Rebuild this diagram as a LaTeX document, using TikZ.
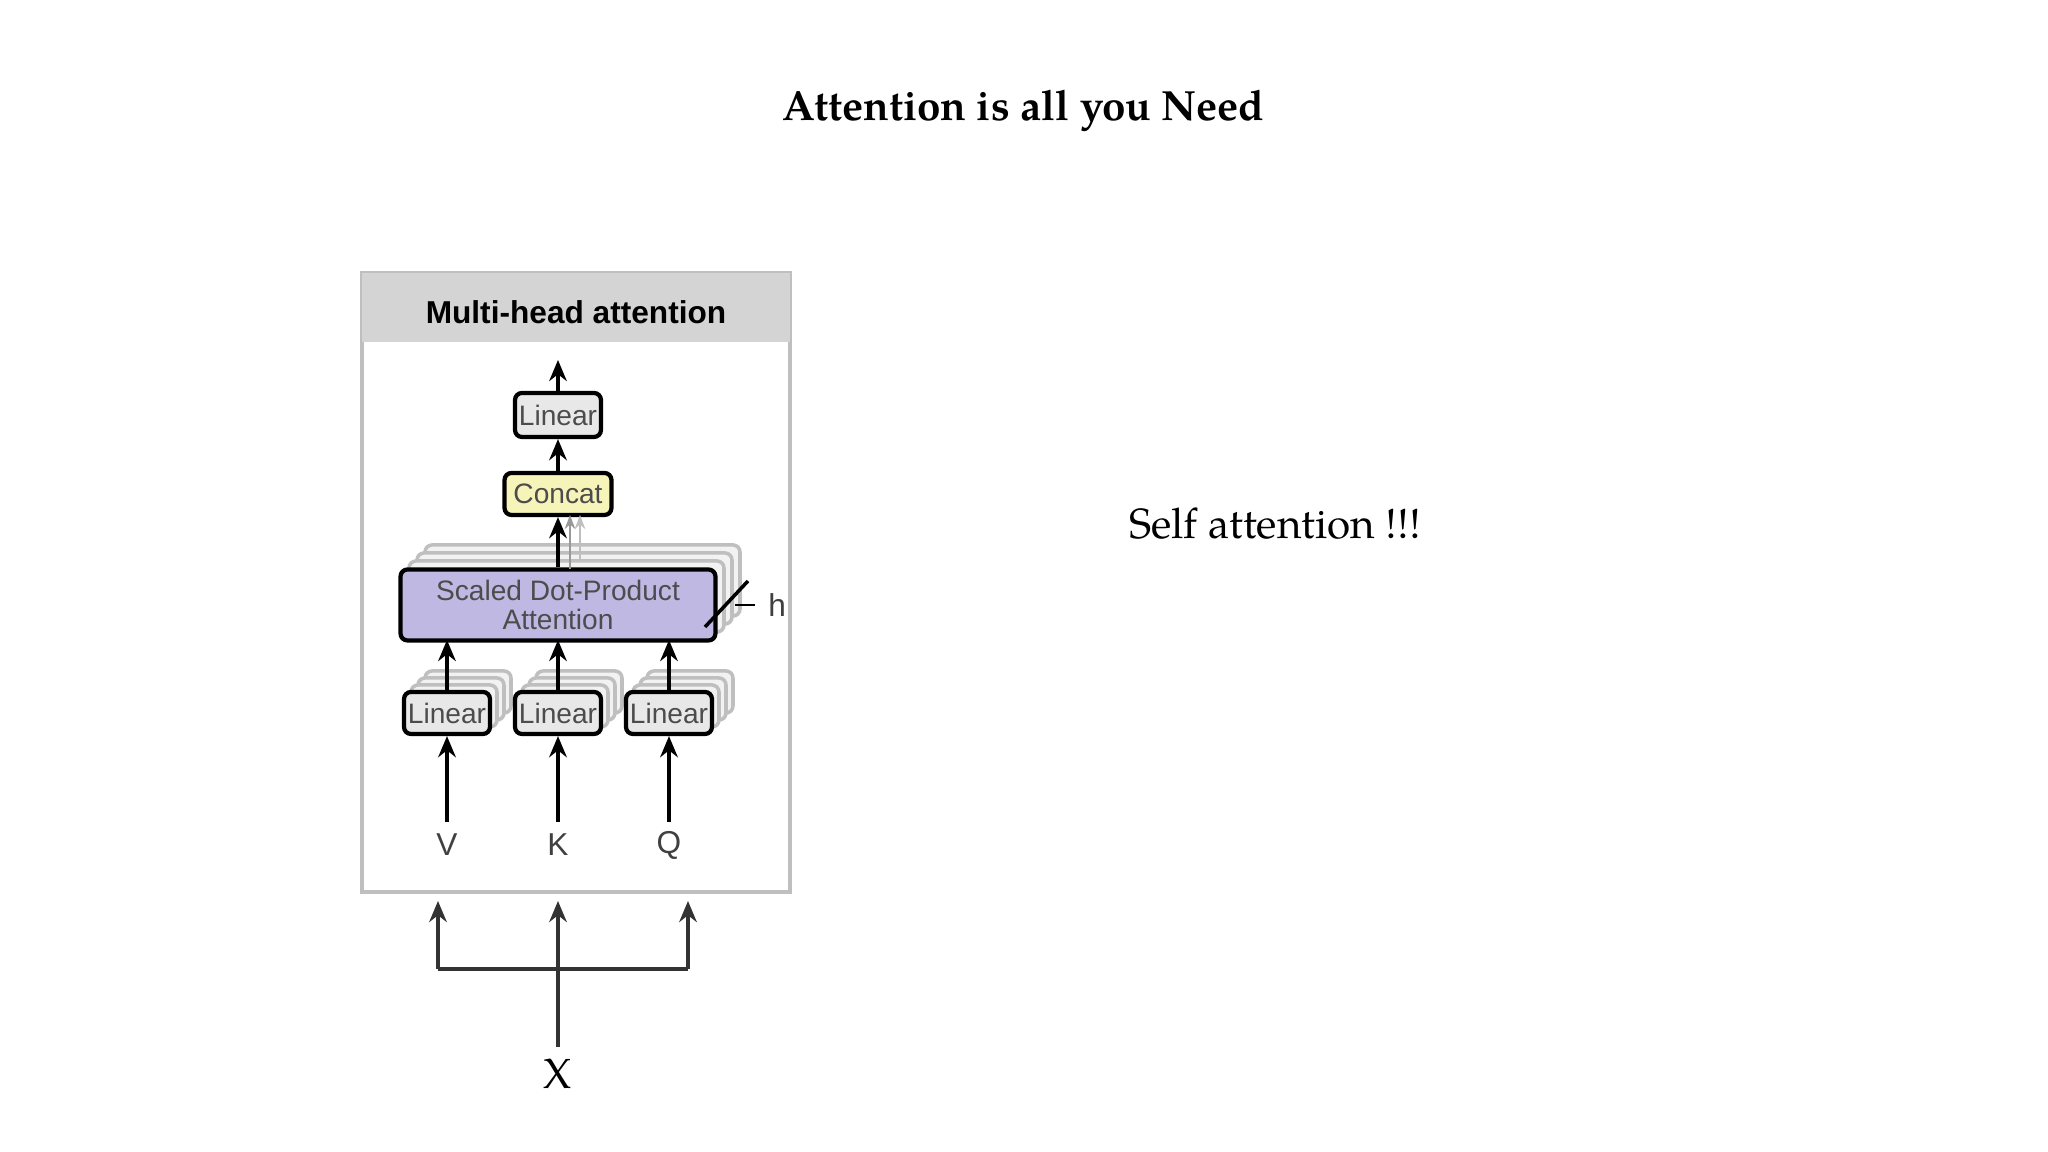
\documentclass[tikz,border=0pt]{standalone}
\usepackage{fontspec}
\setmainfont{TeX Gyre Pagella}[Extension=.otf,UprightFont=texgyrepagella-regular,BoldFont=texgyrepagella-bold]
\newfontfamily\diagfont{Liberation Sans}
\usetikzlibrary{positioning,arrows.meta}
\definecolor{headgray}{RGB}{212,212,212}
\definecolor{boxgray}{RGB}{232,232,232}
\definecolor{concatyellow}{RGB}{246,244,184}
\definecolor{sdpapurple}{RGB}{190,184,226}

\begin{document}
\begin{tikzpicture}[x=1cm,y=1cm]
    % styles
    \tikzset{
        block/.style={rectangle, rounded corners=2pt, draw=black, line width=1.2pt, fill=boxgray, font=\diagfont\footnotesize, text=black!70, inner sep=0pt},
        ghost/.style={rectangle, rounded corners=2pt, draw=black!25, line width=1pt, fill=black!5},
        arrow/.style={line width=1pt, -{Stealth[length=6pt,width=5pt]}},
        plain/.style={font=\diagfont\small, text=black!75}
    }
    \useasboundingbox (0,0) rectangle (20.48,11.52);

    % headings
    \node [font=\large\bfseries] (title) at (10.23,10.41) {Attention is all you Need};
    \node [font=\large] (selfatt) at (12.75,6.28) {Self attention !!!};

    % panel
    \draw [black!25, line width=1pt, fill=white] (3.62,2.60) rectangle (7.90,8.79);
    \fill [headgray] (3.62,8.10) rectangle (7.90,8.79);
    \node [font=\diagfont\small\bfseries] (panelhead) at (5.76,8.40) {Multi-head attention};

    % output side
    \node [block, minimum width=0.86cm, minimum height=0.44cm] (linout) at (5.58,7.37) {Linear};
    \node [block, fill=concatyellow, minimum width=1.07cm, minimum height=0.42cm] (concat) at (5.58,6.58) {Concat};
    \coordinate (out) at (5.58,7.92);

    % stacked attention heads
    \foreach \d in {0.24,0.16,0.08}
        \draw [ghost] (4.01+\d,5.12+\d) rectangle (7.16+\d,5.83+\d);
    \node [block, fill=sdpapurple, minimum width=3.15cm, minimum height=0.71cm, align=center] (sdpa) at (5.58,5.47) {Scaled Dot-Product\\[-1pt]Attention};
    \draw [line width=1pt] (7.05,5.25) -- (7.48,5.71);
    \draw [line width=0.6pt] (7.35,5.47) -- (7.55,5.47);
    \node [plain, anchor=west] (h) at (7.56,5.47) {h};

    % input projections
    \foreach \n/\x/\l in {lv/4.47/V, lk/5.58/K, lq/6.69/Q} {
        \foreach \d in {0.21,0.14,0.07}
            \draw [ghost] (\x-0.43+\d,4.18+\d) rectangle (\x+0.43+\d,4.60+\d);
        \node [block, minimum width=0.86cm, minimum height=0.42cm] (\n) at (\x,4.39) {Linear};
        \node [plain] (in\l) at (\x,3.07) {\l};
        \draw [arrow] (\x,3.30) -- (\n);
        \draw [arrow] (\n) -- (\x,5.12);
    }

    % arrows through the top
    \draw [arrow] (sdpa) -- (concat);
    \draw [black!40, line width=0.6pt, -{Stealth[length=4pt]}] (5.70,5.83) -- (5.70,6.37);
    \draw [black!25, line width=0.6pt, -{Stealth[length=4pt]}] (5.80,5.90) -- (5.80,6.37);
    \draw [arrow] (concat) -- (linout);
    \draw [arrow] (linout) -- (out);

    % X fan-out
    \node [font=\large] (x) at (5.58,0.78) {X};
    \coordinate (tv) at (4.38,2.51);
    \coordinate (tk) at (5.58,2.51);
    \coordinate (tq) at (6.88,2.51);
    \draw [arrow, black!80, line width=1.2pt] (x) -- (tk);
    \draw [arrow, black!80, line width=1.2pt] (4.38,1.83) -- (tv);
    \draw [arrow, black!80, line width=1.2pt] (6.88,1.83) -- (tq);
    \draw [black!80, line width=1.2pt] (4.38,1.83) -- (6.88,1.83);
\end{tikzpicture}
\end{document}
